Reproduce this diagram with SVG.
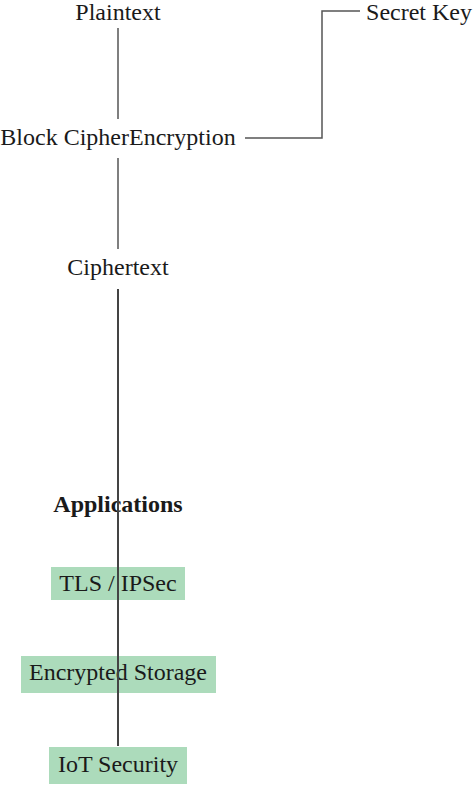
<svg xmlns="http://www.w3.org/2000/svg" width="474" height="785" viewBox="0 0 474 785">
<style>
text{font-family:"Liberation Serif","Times New Roman",serif;font-size:24px;fill:#1a1a1a}
.c{text-anchor:middle}
.b{font-weight:bold}
.box{fill:#acdbbb}
.ln{stroke:#555;stroke-width:1.5;fill:none}
.lk{stroke:#444;stroke-width:2;fill:none}
</style>
<rect width="474" height="785" fill="#fff"/>
<g id="plaintext"><text class="c" x="118" y="20">Plaintext</text></g>
<g id="secretkey"><text x="472" y="20" text-anchor="end">Secret Key</text></g>
<g id="blockcipher"><text class="c" x="118" y="145">Block CipherEncryption</text></g>
<g id="ciphertext"><text class="c" x="118" y="275">Ciphertext</text></g>
<g id="applications"><text class="c b" x="118" y="512">Applications</text></g>
<g id="tls"><rect class="box" x="51" y="567" width="134" height="33"/><text class="c" x="118" y="591">TLS / IPSec</text></g>
<g id="storage"><rect class="box" x="21" y="656" width="195" height="37"/><text class="c" x="118" y="680">Encrypted Storage</text></g>
<g id="iot"><rect class="box" x="49" y="747" width="138" height="37"/><text class="c" x="118" y="772">IoT Security</text></g>
<g id="connectors">
<line class="ln" x1="118" y1="28" x2="118" y2="119"/>
<line class="ln" x1="118" y1="158" x2="118" y2="249"/>
<polyline class="ln" points="245,138 322,138 322,11 360,11"/>
<line class="lk" x1="118" y1="289" x2="118" y2="746"/>
</g>
</svg>
